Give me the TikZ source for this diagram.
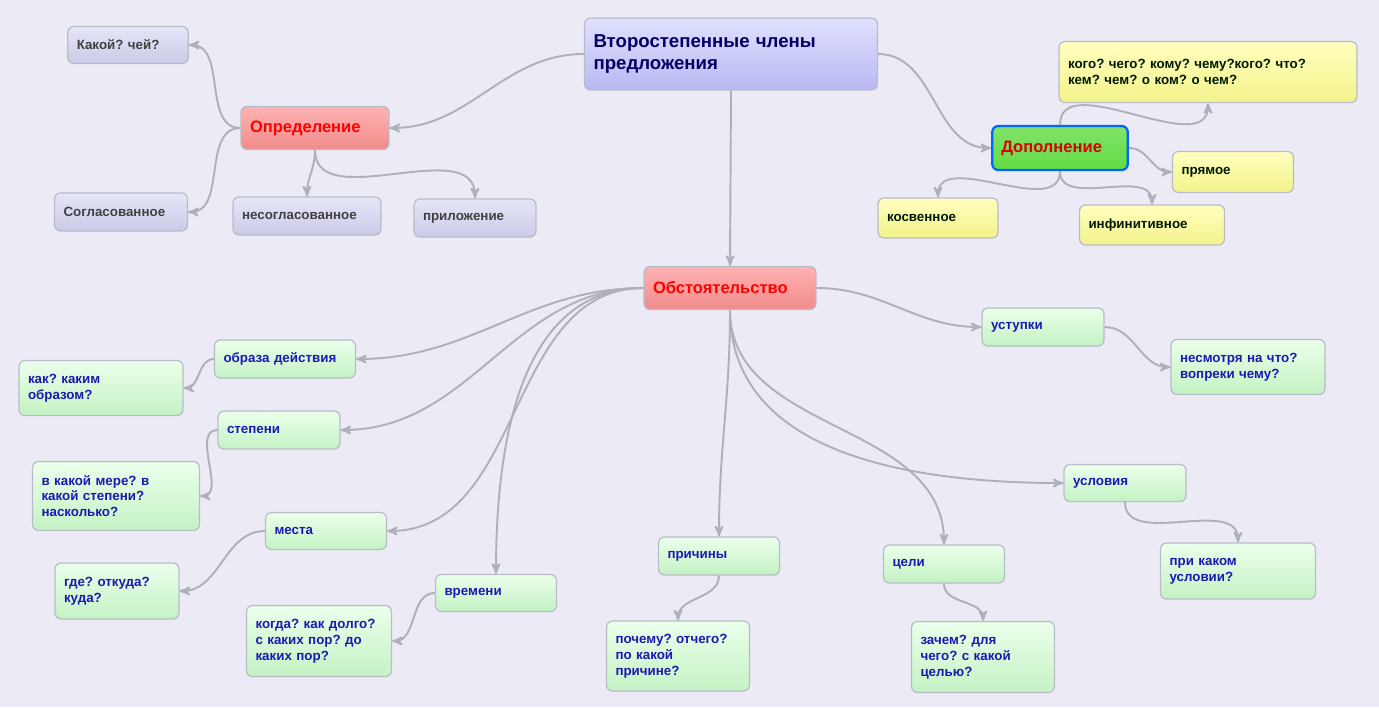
\documentclass[tikz,border=0pt]{standalone}
\usepackage{fontspec}
\setmainfont{Liberation Sans}
\usetikzlibrary{arrows,shapes}
\definecolor{bgc}{HTML}{ECEBF5}
\definecolor{linec}{HTML}{AFB0BC}
\definecolor{edgec}{HTML}{B8BCC8}
\definecolor{qblue}{HTML}{1A1AB0}
\definecolor{lavtop}{HTML}{E6E6F8}
\definecolor{lavbot}{HTML}{CACAE8}
\definecolor{dopgrn}{HTML}{62DC44}
\frenchspacing
\begin{document}
\begin{tikzpicture}[x=0.02cm,y=-0.02cm,>=stealth',font=\bfseries\fontsize{7.6}{9}\selectfont]
        \tikzstyle{box}=[rectangle,rounded corners=1.2mm,draw=edgec,line width=0.7pt,align=left,inner xsep=1.8mm,inner ysep=1mm,text width=#1]
        \tikzstyle{lav}=[box=#1,top color=lavtop,bottom color=lavbot,text=black!75]
        \tikzstyle{grn}=[box=#1,top color=green!8,bottom color=green!20!white!90!gray,text=qblue]
        \tikzstyle{yel}=[box=#1,top color=yellow!25,bottom color=yellow!45!white!90!gray,text=black!75!green!40!black]
        \tikzstyle{main}=[box=#1,top color=red!30,bottom color=red!45!white!90!gray,text=red,font=\bfseries\fontsize{9.4}{11}\selectfont]
        \tikzstyle{link}=[->,draw=linec,line width=1.1pt]
        \useasboundingbox[fill=bgc] (0,0) rectangle (1379,707);
        % root
        \node [box=5.5cm,minimum height=1.44cm,top color=blue!12,bottom color=blue!25!white!90!gray,text=blue!40!black,font=\bfseries\fontsize{10.6}{13}\selectfont] (root) at (731,54) {Второстепенные члены\\предложения};
        % attribute
        \node [main=2.6cm,minimum height=0.86cm] (opr) at (315,128) {Определение};
        \node [lav=2.05cm,minimum height=0.74cm] (kakoj) at (128,45) {Какой? чей?};
        \node [lav=2.3cm,minimum height=0.76cm] (sogl) at (121,212) {Согласованное};
        \node [lav=2.6cm,minimum height=0.76cm] (nesogl) at (307,216) {несогласованное};
        \node [lav=2.08cm,minimum height=0.76cm] (pril) at (475,218) {приложение};
        % object
        \node [box=2.35cm,minimum height=0.88cm,draw=blue!60!cyan,line width=1.3pt,top color=dopgrn!80!white,bottom color=dopgrn,text=red!85!black,font=\bfseries\fontsize{9.4}{11}\selectfont] (dop) at (1060,148) {Дополнение};
        \node [yel=5.6cm,minimum height=1.22cm] (kogo) at (1208,72) {кого? чего? кому? чему?кого? что?\\кем? чем? о ком? о чем?};
        \node [yel=2.06cm,minimum height=0.82cm] (pryam) at (1233,172) {прямое};
        \node [yel=2.04cm,minimum height=0.8cm] (kosv) at (938,218) {косвенное};
        \node [yel=2.54cm,minimum height=0.8cm] (inf) at (1152,225) {инфинитивное};
        % adverbial
        \node [main=3.08cm,minimum height=0.86cm] (obst) at (730,288) {Обстоятельство};
        \node [grn=2.46cm,minimum height=0.76cm] (obraz) at (285,359) {образа действия};
        \node [grn=2.92cm,minimum height=1.1cm] (kak) at (101,388) {как? каким\\образом?};
        \node [grn=2.08cm,minimum height=0.76cm] (step) at (279,430) {степени};
        \node [grn=2.98cm,minimum height=1.38cm] (mera) at (116,496) {в какой мере? в\\какой степени?\\насколько?};
        \node [grn=2.06cm,minimum height=0.74cm] (mesto) at (326,531) {места};
        \node [grn=2.12cm,minimum height=1.12cm] (gde) at (117,591) {где? откуда?\\куда?};
        \node [grn=2.06cm,minimum height=0.74cm] (vrem) at (496,593) {времени};
        \node [grn=2.54cm,minimum height=1.42cm] (kogda) at (319,641) {когда? как долго?\\с каких пор? до\\каких пор?};
        \node [grn=2.06cm,minimum height=0.76cm] (prich) at (719,556) {причины};
        \node [grn=2.5cm,minimum height=1.4cm] (pochemu) at (678,656) {почему? отчего?\\по какой\\причине?};
        \node [grn=2.06cm,minimum height=0.76cm] (celi) at (944,564) {цели};
        \node [grn=2.5cm,minimum height=1.42cm] (zachem) at (983,657) {зачем? для\\чего? с какой\\целью?};
        \node [grn=2.08cm,minimum height=0.74cm] (uslov) at (1125,483) {условия};
        \node [grn=2.74cm,minimum height=1.12cm] (prikak) at (1238,571) {при каком\\условии?};
        \node [grn=2.08cm,minimum height=0.76cm] (ustup) at (1043,327) {уступки};
        \node [grn=2.72cm,minimum height=1.1cm] (nesm) at (1248,367) {несмотря на что?\\вопреки чему?};
        % links
        \draw [link] (root.west) to[out=180,in=0] (opr.east);
        \draw [link] (root.south) -- (obst.north);
        \draw [link] (root.east) to[out=0,in=180] (dop.west);
        \draw [link] (opr.west) to[out=180,in=0] (kakoj.east);
        \draw [link] (opr.west) to[out=180,in=0] (sogl.east);
        \draw [link] (opr.south) to[out=-90,in=90] (nesogl.north);
        \draw [link] (opr.south) to[out=-90,in=90] (pril.north);
        \draw [link] (dop.north) to[out=90,in=-90] (kogo.south);
        \draw [link] (dop.east) to[out=0,in=180] (pryam.west);
        \draw [link] (dop.south) to[out=-90,in=90] (kosv.north);
        \draw [link] (dop.south) to[out=-90,in=90] (inf.north);
        \draw [link] (obst.west) to[out=180,in=0] (obraz.east);
        \draw [link] (obst.west) to[out=180,in=0] (step.east);
        \draw [link] (obst.west) to[out=180,in=0] (mesto.east);
        \draw [link] (obst.west) to[out=180,in=90] (vrem.north);
        \draw [link] (obst.south) to[out=-90,in=90] (prich.north);
        \draw [link] (obst.south) to[out=-90,in=90] (celi.north);
        \draw [link] (obst.south) to[out=-90,in=180] (uslov.west);
        \draw [link] (obst.east) to[out=0,in=180] (ustup.west);
        \draw [link] (obraz.west) to[out=180,in=0] (kak.east);
        \draw [link] (step.west) to[out=180,in=0] (mera.east);
        \draw [link] (mesto.west) to[out=180,in=0] (gde.east);
        \draw [link] (vrem.west) to[out=180,in=0] (kogda.east);
        \draw [link] (prich.south) to[out=-90,in=90] (pochemu.north);
        \draw [link] (celi.south) to[out=-90,in=90] (zachem.north);
        \draw [link] (uslov.south) to[out=-90,in=90] (prikak.north);
        \draw [link] (ustup.east) to[out=0,in=180] (nesm.west);
\end{tikzpicture}
\end{document}
